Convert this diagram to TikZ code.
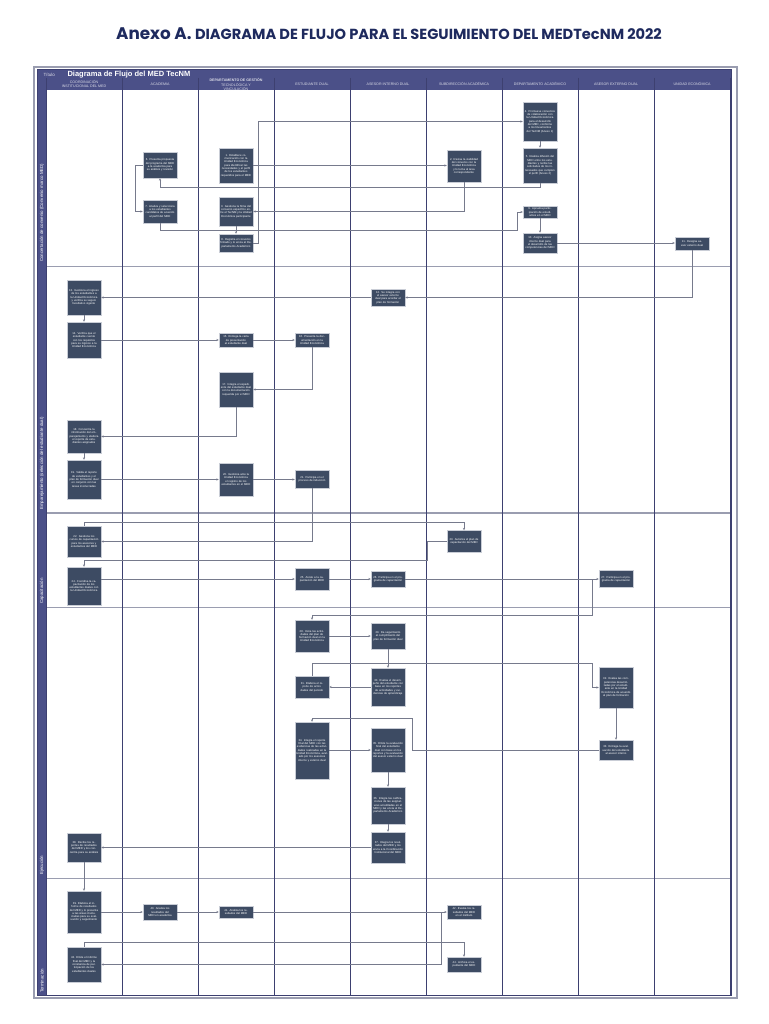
\documentclass[tikz,border=0pt]{standalone}
\usepackage{fontspec}
\setmainfont{Liberation Sans}
\newfontfamily\titulofont{Poppins}
\usetikzlibrary{arrows.meta}
\definecolor{azultitulo}{HTML}{1E2A5E}
\definecolor{azulbanda}{HTML}{4B5088}
\definecolor{azulcarril}{HTML}{3D4070}
\definecolor{azulcaja}{HTML}{3D4B63}
\definecolor{bordecaja}{HTML}{C9CDD6}
\definecolor{grislinea}{HTML}{767A8C}
\definecolor{grissep}{HTML}{9A9DB0}
\tikzset{
  paso/.style={draw=bordecaja, line width=0.5pt, fill=azulcaja, text=white,
    minimum width=34, text width=31.5, inner sep=0.8pt, align=center,
    font=\fontsize{2.8}{3.3}\selectfont},
  flecha/.style={draw=grislinea, line width=0.6pt, -{Stealth[length=2.4pt,width=2.2pt]}},
  carril/.style={draw=azulcarril, line width=1pt},
  separa/.style={draw=grissep, line width=0.8pt},
  fase/.style={rotate=90, anchor=west, text=white, inner sep=0pt,
    font=\fontsize{4.4}{4.8}\selectfont},
  encab/.style={text=white!80!azulbanda, align=center, inner sep=0pt,
    font=\fontsize{3.6}{4.1}\selectfont}
}
\begin{document}
\begin{tikzpicture}[x=1pt,y=-1pt]
\useasboundingbox (0,0) rectangle (768,1024);
\fill[white] (0,0) rectangle (768,1024);

% titulo
\node[text=azultitulo, font=\titulofont\bfseries\fontsize{16.8}{18}\selectfont] (titulo) at (389,34)
  {Anexo A. {\fontsize{14.6}{16}\selectfont DIAGRAMA DE FLUJO PARA EL SEGUIMIENTO DEL MEDTecNM 2022}};

% marco y carriles
\draw[grissep, line width=1.2pt] (34,67) rectangle (737,998);
\fill[azulbanda] (37,70) rectangle (731,90);
\fill[azulbanda] (37,70) rectangle (47,995);
\foreach \y in {266,607,878} \draw[separa] (47,\y) -- (731,\y);
\draw[grissep, line width=2pt] (47,513) -- (731,513);
\draw[separa] (47,995) -- (731,995);
\foreach \x in {46,122,198,274,350,426,502,578,654,730} \draw[carril] (\x,78) -- (\x,995);
\draw[azulcarril, line width=1pt] (37,70) rectangle (731,995);

% encabezados
\node[anchor=west, text=white!80!azulbanda, font=\fontsize{4.5}{5}\selectfont] (tit) at (40,75) {Título};
\node[anchor=west, text=white, font=\bfseries\fontsize{7.5}{8}\selectfont] (titdiag) at (64,74.5) {Diagrama de Flujo del MED TecNM};
\node[encab] (h1) at (84,84) {COORDINACIÓN\\INSTITUCIONAL DEL MED};
\node[encab] (h2) at (160,84) {ACADEMIA};
\node[encab] (h3) at (236,84.5) {\textbf{DEPARTAMENTO DE GESTIÓN}\\TECNOLÓGICA Y\\VINCULACIÓN};
\node[encab] (h4) at (312,84) {ESTUDIANTE DUAL};
\node[encab] (h5) at (388,84) {ASESOR INTERNO DUAL};
\node[encab] (h6) at (464,84) {SUBDIRECCIÓN ACADÉMICA};
\node[encab] (h7) at (540,84) {DEPARTAMENTO ACADÉMICO};
\node[encab] (h8) at (616,84) {ASESOR EXTERNO DUAL};
\node[encab] (h9) at (692,84) {UNIDAD ECONÓMICA};

% fases
\node[fase] (f1) at (42,262) {Concertación de convenio (Convenio marco MED)};
\node[fase] (f2) at (42,510) {Emparejamiento (selección del estudiante dual)};
\node[fase] (f3) at (42,604) {Capacitación};
\node[fase] (f4) at (42,875) {Ejecución};
\node[fase] (f5) at (42,993) {Terminación};

% concertacion
\node[paso, minimum height=39] (a1) at (540,121.5) {4. Promueve convenios de colaboración con la Unidad Económica para el desarrollo del MED, conforme a los lineamientos del TecNM (Anexo 1)};
\node[paso, minimum height=35] (a2) at (540,165.5) {5. Realiza difusión del MED entre los estudiantes y recibe las solicitudes de los interesados que cumplen el perfil (Anexo 2)};
\node[paso, minimum height=12] (a3) at (540,212) {9. Aprueba participación de estudiantes en el MED};
\node[paso, minimum height=20] (a4) at (540,243) {10. Asigna asesor interno dual para el desarrollo de las competencias del MED};
\node[paso, minimum height=13] (u1) at (692,243.5) {11. Designa asesor externo dual};
\node[paso, minimum height=26] (ac1) at (160,165) {6. Presenta propuesta del programa del MED a la academia para su análisis y revisión};
\node[paso, minimum height=23] (ac2) at (160,211.5) {7. Analiza y selecciona a los estudiantes candidatos de acuerdo al perfil del MED};
\node[paso, minimum height=35] (g1) at (236,165.5) {1. Establece comunicación con la Unidad Económica para identificar las necesidades y el perfil de los estudiantes requeridos para el MED};
\node[paso, minimum height=29] (g2) at (236,211.5) {3. Gestiona la firma del convenio específico entre el TecNM y la Unidad Económica participante};
\node[paso, minimum height=18] (g3) at (236,243) {8. Registra el convenio firmado y lo envía al Departamento Académico};
\node[paso, minimum height=32] (s1) at (464,166) {2. Revisa la viabilidad del convenio con la Unidad Económica y lo turna al área correspondiente};

\draw[flecha] (g1.east) -- (g1.east -| s1.west);
\draw[flecha] (s1.south) |- (g2.east);
\draw[flecha] (g2.south) -- (g3.north);
\draw[flecha] (g3.east) -- ++(5,0) |- (a1.west);
\draw[flecha] (a1.south) -- (a2.north);
\draw[flecha] (a2.south) -- ++(0,4) -| (ac1.south);
\draw[flecha] (ac1.west) -- ++(-7,0) |- (ac2.west);
\draw[flecha] (ac2.south) |- (517,230) |- (a3.west);
\draw[flecha] (a3.south) -- (a4.north);
\draw[flecha] (a4.east) -- (a4.east -| u1.west);

% emparejamiento
\node[paso, minimum height=17] (i0) at (388,297.5) {12. Se integra con el asesor externo dual para acordar el plan de formación};
\node[paso, minimum height=35] (c1) at (84,297.5) {13. Gestiona el ingreso de los estudiantes a la Unidad Económica y verifica su seguro facultativo vigente};
\node[paso, minimum height=36] (c2) at (84,340) {14. Verifica que el estudiante cuente con los requisitos para su ingreso a la Unidad Económica};
\node[paso, minimum height=14] (g4) at (236,340) {15. Entrega la carta de presentación al estudiante dual};
\node[paso, minimum height=14] (e1) at (312,340) {16. Presenta la documentación en la Unidad Económica};
\node[paso, minimum height=35] (g5) at (236,389.5) {17. Integra el expediente del estudiante dual con la documentación requerida por el MED};
\node[paso, minimum height=33] (c3) at (84,436.5) {18. Concentra la información del emparejamiento y elabora el reporte de estudiantes asignados};
\node[paso, minimum height=39] (c4) at (84,479.5) {19. Valida el reporte de estudiantes y el plan de formación dual en conjunto con las áreas involucradas};
\node[paso, minimum height=33] (g6) at (236,479.5) {20. Gestiona ante la Unidad Económica el registro de los estudiantes en el MED};
\node[paso, minimum height=18] (e2) at (312,479) {21. Participa en el proceso de inducción};

\draw[flecha] (u1.south) |- (i0.east);
\draw[flecha] (i0.west) -- (i0.west -| c1.east);
\draw[flecha] (c1.south) -- (c2.north);
\draw[flecha] (c2.east) -- (g4.west);
\draw[flecha] (g4.east) -- (e1.west);
\draw[flecha] (e1.south) |- (g5.east);
\draw[flecha] (g5.south) |- (c3.east);
\draw[flecha] (c3.south) -- (c4.north);
\draw[flecha] (c4.east) -- (g6.west);
\draw[flecha] (g6.east) -- (g6.east -| e2.west);

% capacitacion
\node[paso, minimum height=31] (c5) at (84,541.5) {22. Gestiona los cursos de capacitación para los asesores y estudiantes del MED};
\node[paso, minimum height=22] (s2) at (464,541.5) {23. Autoriza el plan de capacitación del MED};
\node[paso, minimum height=38] (c6) at (84,586) {24. Coordina la capacitación de los estudiantes duales con la Unidad Económica};
\node[paso, minimum height=22] (e3) at (312,579) {25. Asiste a la capacitación del MED};
\node[paso, minimum height=16] (i1) at (388,579) {26. Participa en el programa de capacitación};
\node[paso, minimum height=17] (x1) at (616,579) {27. Participa en el programa de capacitación};
\coordinate (r1) at (592,579);
\coordinate (r1b) at (592,615);

\draw[flecha] (e2.south) |- (c5.east);
\draw[flecha] (c5.north) |- (464,522) -- (s2.north);
\draw[flecha] (s2.west) -- ++(-19,0) |- (84,560) -- (c6.north);
\draw[flecha] (c6.east |- e3.west) -- (e3.west);
\draw[flecha] (e3.east) -- (i1.west);
\draw[flecha] (i1.east) -- (x1.west);

% ejecucion
\node[paso, minimum height=32] (e4) at (312,636) {28. Inicia las actividades del plan de formación dual en la Unidad Económica};
\node[paso, minimum height=26] (i2) at (388,636) {29. Da seguimiento al cumplimiento del plan de formación dual};
\node[paso, minimum height=38] (i3) at (388,687) {30. Evalúa el desempeño del estudiante con base en los reportes de actividades y evidencias de aprendizaje};
\node[paso, minimum height=22] (e5) at (312,687) {31. Elabora el reporte de actividades del periodo};
\node[paso, minimum height=41] (x2) at (616,687.5) {32. Evalúa las competencias desarrolladas por el estudiante en la Unidad Económica de acuerdo al plan de formación};
\node[paso, minimum height=20] (x3) at (616,750) {33. Entrega la evaluación del estudiante al asesor interno};
\node[paso, minimum height=57] (e6) at (312,750.5) {34. Integra el reporte final del MED con las evidencias de las actividades realizadas en la Unidad Económica, avalado por los asesores interno y externo dual};
\node[paso, minimum height=44] (i4) at (388,750) {35. Emite la evaluación final del estudiante dual con base en los reportes y la evaluación del asesor externo dual};
\node[paso, minimum height=37] (i5) at (388,805.5) {36. Integra las calificaciones de las asignaturas acreditadas en el MED y las envía al Departamento Académico};
\node[paso, minimum height=31] (i6) at (388,847.5) {37. Integra los resultados del MED y los envía a la Coordinación Institucional del MED};
\node[paso, minimum height=29] (c7) at (84,847.5) {38. Recibe los reportes de resultados del MED y los concentra para su análisis};

\draw[flecha] (r1) -- (r1b) -| (e4.north);
\draw[flecha] (e4.east) -- (e4.east -| i2.west);
\draw[flecha] (i2.south) -- (i3.north);
\draw[flecha] (i3.west) -- (e5.east);
\draw[flecha] (e5.north) |- (592,663) |- (x2.west);
\draw[flecha] (x2.south) -- (x3.north);
\draw[flecha] (x3.west) -| (412,718) -| (e6.north);
\draw[flecha] (e6.east |- i4.west) -- (i4.west);
\draw[flecha] (i4.south) -- (i5.north);
\draw[flecha] (i5.south) -- (i6.north);
\draw[flecha] (i6.west) -- (c7.east);

% terminacion
\node[paso, minimum height=42] (c8) at (84,912) {39. Elabora el informe de resultados del MED y lo presenta a las áreas involucradas para su evaluación y seguimiento};
\node[paso, minimum height=16] (t1) at (160,912) {40. Analiza los resultados del MED en academia};
\node[paso, minimum height=12] (g7) at (236,912) {41. Analiza los resultados del MED};
\node[paso, minimum height=14] (s3) at (464,912) {42. Evalúa los resultados del MED en el instituto};
\node[paso, minimum height=35] (c9) at (84,964.5) {43. Emite el informe final del MED y la constancia de participación de los estudiantes duales};
\node[paso, minimum height=15] (s4) at (464,964.5) {44. Archiva el expediente del MED};
\coordinate (r2) at (441,912);

\draw[flecha] (c7.south) -- (c8.north);
\draw[flecha] (c8.east) -- (t1.west);
\draw[flecha] (t1.east) -- (g7.west);
\draw[flecha] (g7.east) -- (s3.west);
\draw[flecha] (r2) |- (c9.east);
\draw[flecha] (c9.north) -- ++(0,-4) -| (s4.north);
\end{tikzpicture}
\end{document}
